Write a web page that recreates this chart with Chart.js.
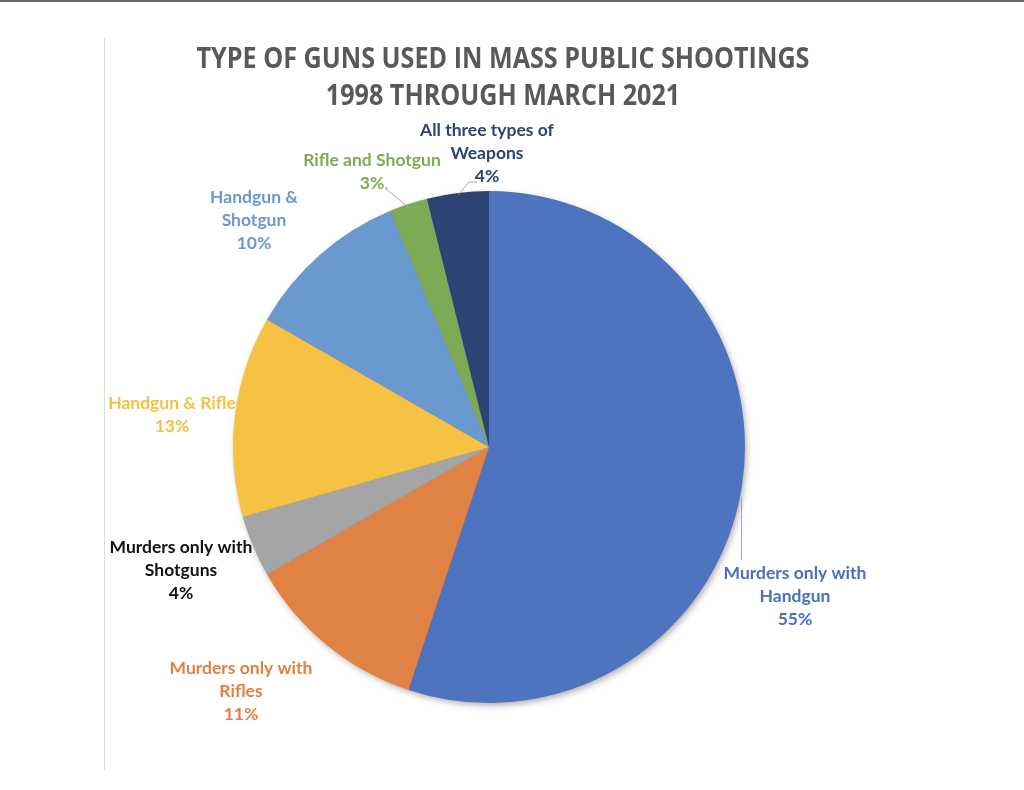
<!DOCTYPE html>
<html><head><meta charset="utf-8">
<script src="https://cdn.jsdelivr.net/npm/chart.js@4"></script>
<style>html,body{margin:0;padding:0;background:#fff;}#wrap{position:relative;width:1024px;height:790px;}</style>
</head><body><div id="wrap"><canvas id="c" width="1024" height="790"></canvas></div>
<script>
const categories = ["Murders only with Handgun","Murders only with Rifles","Murders only with Shotguns","Handgun & Rifle","Handgun & Shotgun","Rifle and Shotgun","All three types of Weapons"];
const shares = [55.1, 11.6, 3.9, 12.7, 10.4, 2.4, 3.9];
const percentLabels = ["55%","11%","4%","13%","10%","3%","4%"];
const labelLines = [["Murders only with","Handgun"],["Murders only with","Rifles"],["Murders only with","Shotguns"],["Handgun & Rifle"],["Handgun &","Shotgun"],["Rifle and Shotgun"],["All three types of","Weapons"]];
const titleLines = ["TYPE OF GUNS USED IN MASS PUBLIC SHOOTINGS","1998 THROUGH MARCH 2021"];

const sliceColors = ["#4E73BF","#DF8244","#A5A5A5","#F5C243","#6A99D0","#7DAB55","#2D4374"];
const textColors = ["#4A6FBD","#DE8143","#111111","#F4C142","#6A99D0","#7DAB55","#2D4374"];
// label block offsets (first line centre) relative to pie centre
const labelOffsets = [[306,126],[-248,221],[-308,100],[-317,-44],[-235,-250],[-117,-287],[-2,-317]];
// leader lines as offsets relative to pie centre
const leaders = [null,null,null,null,null,[[-101,-259],[-104,-259],[-81,-240]],[[-12,-265],[-20,-265],[-31,-252]]];

const pieDeco = {
  id:'pieDeco',
  beforeDatasetsDraw(chart){
    const a = chart.getDatasetMeta(0).data[0];
    const ctx = chart.ctx;
    ctx.save();
    ctx.shadowColor = 'rgba(0,0,0,0.35)';
    ctx.shadowBlur = 7;
    ctx.shadowOffsetX = 2;
    ctx.shadowOffsetY = 3;
    ctx.fillStyle = '#888';
    ctx.beginPath(); ctx.arc(a.x, a.y, a.outerRadius-1, 0, Math.PI*2); ctx.fill();
    ctx.restore();
  },
  afterDraw(chart){
    const ctx = chart.ctx;
    const a = chart.getDatasetMeta(0).data[0];
    const cx = a.x, cy = a.y;
    ctx.save();
    // page frame lines
    ctx.fillStyle = '#6b6b6b'; ctx.fillRect(0,0,1024,2);
    ctx.fillStyle = '#dcdcdc'; ctx.fillRect(104,38,1,732);
    // title
    ctx.fillStyle = '#595959';
    ctx.textAlign = 'center'; ctx.textBaseline = 'middle';
    ctx.font = 'bold 27px "Open Sans", Lato, sans-serif';
    const w = ctx.measureText(titleLines[0]).width;
    const fs = 27*613/w;
    ctx.font = 'bold '+fs.toFixed(2)+'px "Open Sans", Lato, sans-serif';
    ctx.save(); ctx.translate(503,0); ctx.scale(1,1.15);
    ctx.fillText(titleLines[0],0,60/1.15);
    ctx.fillText(titleLines[1],0,97/1.15);
    ctx.restore();
    // leaders
    ctx.strokeStyle = '#a6a6a6'; ctx.lineWidth = 1;
    ctx.beginPath(); ctx.moveTo(cx+252.5, cy+50); ctx.lineTo(cx+252.5, cy+113); ctx.stroke();
    leaders.forEach(l=>{ if(!l) return; ctx.beginPath(); ctx.moveTo(cx+l[0][0],cy+l[0][1]); for(let i=1;i<l.length;i++) ctx.lineTo(cx+l[i][0],cy+l[i][1]); ctx.stroke(); });
    // labels
    ctx.font = 'bold 17.5px Lato, "Open Sans", sans-serif';
    labelLines.forEach((lines,i)=>{
      const all = lines.concat([percentLabels[i]]);
      ctx.fillStyle = textColors[i];
      const x = cx+labelOffsets[i][0], y = cy+labelOffsets[i][1];
      all.forEach((t,k)=>ctx.fillText(t, x, y+k*23));
    });
    ctx.restore();
  }
};

new Chart(document.getElementById('c'), {
  type:'pie',
  data:{labels:categories, datasets:[{data:shares, backgroundColor:sliceColors, borderWidth:0, hoverOffset:0}]},
  options:{
    responsive:false, animation:false, events:[],
    layout:{padding:{left:233,right:279,top:191,bottom:87}},
    plugins:{legend:{display:false}, title:{display:false}, tooltip:{enabled:false}}
  },
  plugins:[pieDeco]
});
</script></body></html>
